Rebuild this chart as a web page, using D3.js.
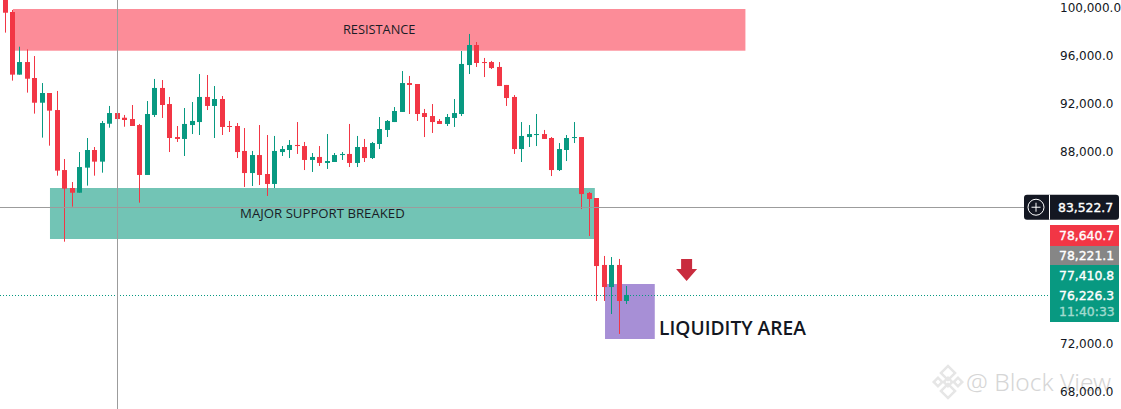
<!DOCTYPE html>
<html>
<head>
<meta charset="utf-8">
<script src="https://cdn.jsdelivr.net/npm/d3@7"></script>
<style>
  html, body { margin: 0; padding: 0; background: #fff; overflow: hidden; }
  svg { display: block; }
</style>
</head>
<body>
<div id="chart"></div>
<script>
var opens = [100920,99750,94530,95580,94250,92190,93000,91580,86580,85080,84690,86780,88250,87280,90440,91330,90940,90830,90330,86170,91170,93420,92080,89330,89170,90330,90580,92670,91920,92500,90250,90250,88170,86330,87830,86250,85420,88080,88250,88670,88580,87420,87670,87170,87250,87830,87920,87170,88500,87580,88750,89920,90580,91420,93830,93750,91330,91080,90670,90420,90920,91250,95330,97000,95580,95580,95170,93670,92670,88330,89330,89500,89580,89250,86580,88250,89250,89330,84670,84250,78670,76830,78670,75670];
var highs = [100920,99920,96860,96640,96080,93830,93000,93170,87500,85580,88080,89250,88500,90670,91920,91330,91170,92000,90420,92330,94170,94080,92670,90250,91750,92250,94580,94500,93580,92750,90670,90500,90080,88170,90330,89500,89420,88580,89080,90580,88920,88000,88580,89580,88000,88080,90420,89420,89170,88920,91000,90750,91830,94830,94420,93750,91670,92080,90830,91250,92500,96500,97920,97250,95920,95670,95580,93670,92830,90580,90330,91250,89920,89330,88830,89500,90580,89330,84750,84250,79420,79330,79170,76920];
var lows = [98030,94030,94530,93030,91280,89280,88610,86110,80610,83530,84690,85280,86110,86360,90110,90830,90190,90250,83860,86170,91000,90920,88080,88920,87750,89580,89500,91580,89250,89500,89750,87580,85170,85250,85330,84420,85080,87750,87580,87920,86580,86420,86920,86670,87250,87420,86830,86830,87250,87500,88330,89330,90580,91420,91250,90670,89330,89670,90420,90250,90170,91080,94580,95170,94330,95000,93580,91920,87920,87250,88500,88580,89170,86080,86500,87330,88830,83330,81080,75670,75670,74580,72920,75420];
var closes = [99690,94530,95580,94190,92190,93000,91530,86530,85030,84690,86830,88250,87280,90500,91330,90830,90750,90250,86170,91250,93420,92000,89250,89170,90420,90670,92670,91920,92500,90170,90170,88080,86330,87830,86170,85420,88170,88330,88670,88580,87420,87670,87170,87330,87830,87920,87170,88500,87580,88830,90000,90670,91500,93830,93670,91250,91000,90580,90420,91000,91330,95420,97000,95500,95500,95080,93580,92580,88330,89420,89580,89580,89170,86580,88330,89250,89330,84580,84170,78580,76830,78670,75670,76170];

var priceTicks = [100000,96000,92000,88000,72000,68000];

// zones: price band + bar index span
var zoneNames = ["RESISTANCE","MAJOR SUPPORT BREAKED","LIQUIDITY"];
var zoneFrom = [1.13,6.07,80.16];
var zoneTo = [98.9,78.8,86.8];
var zoneTop = [100000,85083,77083];
var zoneBottom = [96525,80833,72500];

var crossPrice = 83522.7;
var crossBar = 15;
var lastPrice = 76226.3;
var tagPrices = [78640.7,78221.1,77410.8,76226.3];
var countdown = "11:40:33";

var width = 1121;
var height = 409;
var red = "#f23645";
var green = "#089981";
var axisFont = "'DejaVu Sans', sans-serif";
var noteFont = "'Open Sans', sans-serif";

var x = d3.scaleLinear().domain([0,83]).range([4.5,626.3]);
var y = d3.scaleLinear().domain([100000,68000]).range([9,393]);
var fmt = d3.format(",.1f");

var svg = d3.select("#chart").append("svg")
  .attr("width", width)
  .attr("height", height);

// watermark sits under everything else
var logo = svg.append("g")
  .attr("transform", "translate(948,382)")
  .attr("fill", "none")
  .attr("stroke", "#e6e6e6")
  .attr("stroke-width", 2.5);
logo.selectAll("rect")
  .data([[0,-9,5],[0,9,5],[-10,0,3],[10,0,3],[0,0,3]])
  .enter().append("rect")
  .attr("x", function(d){ return -d[2]; })
  .attr("y", function(d){ return -d[2]; })
  .attr("width", function(d){ return d[2]*2; })
  .attr("height", function(d){ return d[2]*2; })
  .attr("transform", function(d){ return "translate(" + d[0] + "," + d[1] + ") rotate(45)"; });
svg.append("text")
  .attr("x", 966)
  .attr("y", 391)
  .attr("font-family", "'Noto Sans', sans-serif")
  .attr("font-size", 24.5)
  .attr("font-weight", 300)
  .attr("fill", "#d6d6d6")
  .text("@ Block View");

// zones
var zoneFill = ["#fc8c98","#72c4b5","#a78fd6"];
svg.selectAll(".zone")
  .data(zoneNames)
  .enter().append("rect")
  .attr("class", "zone")
  .attr("x", function(d,i){ return x(zoneFrom[i]); })
  .attr("width", function(d,i){ return x(zoneTo[i]) - x(zoneFrom[i]); })
  .attr("y", function(d,i){ return y(zoneTop[i]); })
  .attr("height", function(d,i){ return y(zoneBottom[i]) - y(zoneTop[i]); })
  .attr("fill", function(d,i){ return zoneFill[i]; });

// last price dotted line
svg.append("line")
  .attr("x1", 0).attr("x2", 1048)
  .attr("y1", Math.round(y(lastPrice)) + 1.5).attr("y2", Math.round(y(lastPrice)) + 1.5)
  .attr("stroke", green)
  .attr("stroke-dasharray", "1,2");

// candles
var candles = svg.selectAll(".candle")
  .data(opens)
  .enter().append("g")
  .attr("class", "candle")
  .attr("fill", function(d,i){ return closes[i] >= opens[i] ? green : red; })
  .attr("stroke", function(d,i){ return closes[i] >= opens[i] ? green : red; });
candles.append("line")
  .attr("x1", function(d,i){ return Math.round(x(i)) + 0.5; })
  .attr("x2", function(d,i){ return Math.round(x(i)) + 0.5; })
  .attr("y1", function(d,i){ return y(highs[i]); })
  .attr("y2", function(d,i){ return y(lows[i]); })
  .attr("stroke-width", 1);
candles.append("rect")
  .attr("x", function(d,i){ return Math.round(x(i)) - 2; })
  .attr("width", 5)
  .attr("y", function(d,i){ return y(Math.max(opens[i],closes[i])); })
  .attr("height", function(d,i){ return Math.max(1, Math.abs(y(opens[i]) - y(closes[i]))); })
  .attr("stroke", "none");

// crosshair
svg.append("line")
  .attr("x1", Math.round(x(crossBar)) + 0.5).attr("x2", Math.round(x(crossBar)) + 0.5)
  .attr("y1", 0).attr("y2", height)
  .attr("stroke", "#9c9c9c");
svg.append("line")
  .attr("x1", 0).attr("x2", 1024)
  .attr("y1", Math.round(y(crossPrice)) + 0.5).attr("y2", Math.round(y(crossPrice)) + 0.5)
  .attr("stroke", "#9c9c9c");

// annotations
svg.append("text")
  .attr("x", x((zoneFrom[0]+zoneTo[0])/2) ).attr("y", 34)
  .attr("text-anchor", "middle")
  .attr("font-family", noteFont).attr("font-size", 12.8)
  .attr("fill", "#1a1d26")
  .text(zoneNames[0]);
svg.append("text")
  .attr("x", x((zoneFrom[1]+zoneTo[1])/2)).attr("y", 218)
  .attr("text-anchor", "middle")
  .attr("font-family", noteFont).attr("font-size", 13.2)
  .attr("fill", "#1a1d26")
  .text(zoneNames[1]);
svg.append("text")
  .attr("x", 659).attr("y", 335)
  .attr("font-family", noteFont).attr("font-size", 19.2).attr("font-weight", 600)
  .attr("fill", "#131722")
  .text("LIQUIDITY AREA");

// down arrow
var ax = x(91.05);
var ay = y(79167);
svg.append("path")
  .attr("d", d3.line()([[ax-5.5,ay],[ax+5.5,ay],[ax+5.5,ay+10],[ax+10.5,ay+10],[ax,ay+22],[ax-10.5,ay+10],[ax-5.5,ay+10]]) + "Z")
  .attr("fill", "#c92c3e");

// price axis
var axis = svg.append("g")
  .attr("transform", "translate(1048,-1)")
  .call(d3.axisRight(y).tickValues(priceTicks).tickFormat(fmt).tickSize(0).tickPadding(12));
axis.select(".domain").remove();
axis.selectAll("text")
  .attr("font-family", axisFont)
  .attr("font-size", 12)
  .attr("fill", "#131722");

// crosshair tag
var tagY = y(crossPrice);
svg.append("rect")
  .attr("x", 1024).attr("y", tagY-12).attr("width", 95).attr("height", 25)
  .attr("rx", 3).attr("fill", "#131722");
svg.append("line")
  .attr("x1", 1049.5).attr("x2", 1049.5).attr("y1", tagY-12).attr("y2", tagY+13)
  .attr("stroke", "#fff");
svg.append("circle")
  .attr("cx", 1036).attr("cy", tagY+0.5).attr("r", 8)
  .attr("fill", "none").attr("stroke", "#fff");
svg.append("path")
  .attr("d", "M1031.5," + (tagY+0.5) + "H1040.5M1036," + (tagY-4) + "V" + (tagY+5))
  .attr("stroke", "#fff");
svg.append("text")
  .attr("x", 1058).attr("y", tagY+5)
  .attr("font-family", axisFont).attr("font-size", 12.4)
  .attr("fill", "#fff").attr("stroke", "#fff").attr("stroke-width", 0.35)
  .text(fmt(crossPrice));

// stacked price tags
var tagColors = [red,"#868686",green,green];
var tagTops = [225,246,265,285];
var tagHeights = [21,19,20,37];
svg.selectAll(".tag")
  .data(tagPrices)
  .enter().append("rect")
  .attr("class", "tag")
  .attr("x", 1050).attr("width", 69)
  .attr("y", function(d,i){ return tagTops[i]; })
  .attr("height", function(d,i){ return tagHeights[i]; })
  .attr("fill", function(d,i){ return tagColors[i]; });
svg.selectAll(".tagText")
  .data(tagPrices)
  .enter().append("text")
  .attr("class", "tagText")
  .attr("x", 1059)
  .attr("y", function(d,i){ return [240,260,280,300][i]; })
  .attr("font-family", axisFont).attr("font-size", 12.4)
  .attr("fill", "#fff").attr("stroke", "#fff").attr("stroke-width", 0.35)
  .text(function(d){ return fmt(d); });
svg.append("text")
  .attr("x", 1059).attr("y", 316)
  .attr("font-family", axisFont).attr("font-size", 12.4)
  .attr("fill", "#a3dbd0").attr("stroke", "#a3dbd0").attr("stroke-width", 0.35)
  .text(countdown);
</script>
</body>
</html>
